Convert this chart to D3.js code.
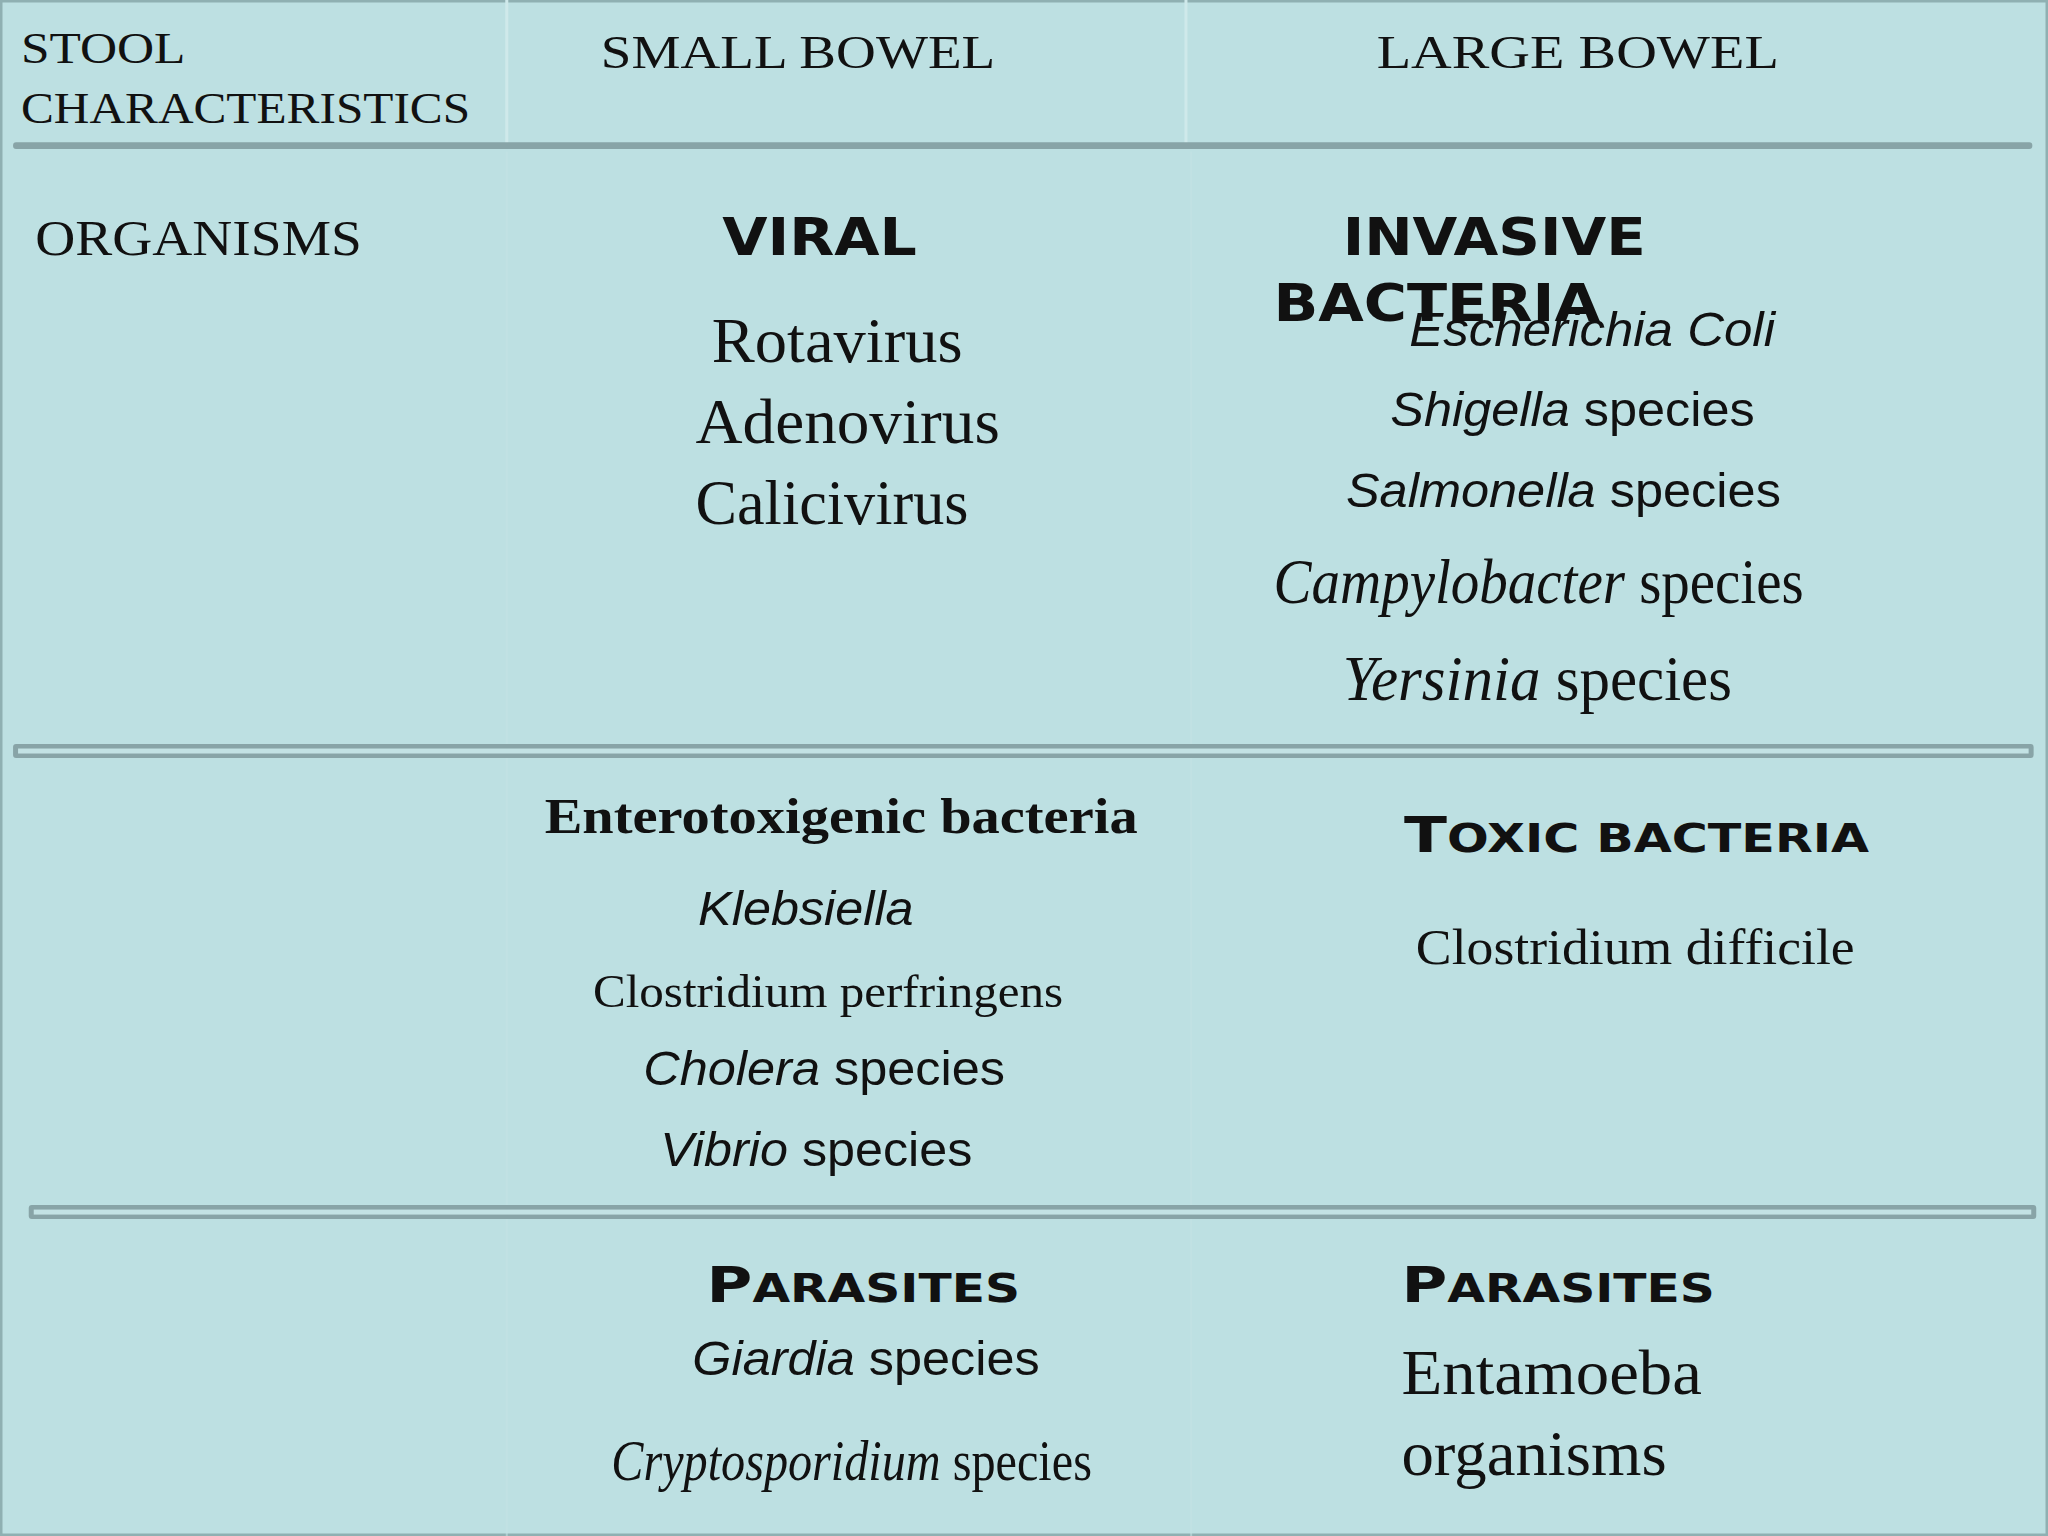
<!DOCTYPE html>
<html><head><meta charset="utf-8">
<script src="https://cdn.jsdelivr.net/npm/d3@7/dist/d3.min.js"></script>
<style>body{margin:0;background:#bde0e2;}svg{display:block}</style>
</head><body>
<script>
// ---- content ----
const columnHeaders = ["SMALL BOWEL", "LARGE BOWEL"];
const rowHeader = ["STOOL", "CHARACTERISTICS"];
const rowLabel = "ORGANISMS";
const groupTitles = ["VIRAL", "INVASIVE", "BACTERIA", "Enterotoxigenic bacteria"];
const viral = ["Rotavirus", "Adenovirus", "Calicivirus"];
const invasive = [["Escherichia Coli", ""], ["Shigella", " species"], ["Salmonella", " species"]];
const invasiveSerif = [["Campylobacter", " species"], ["Yersinia", " species"]];
const enteroItalic = [["Klebsiella", ""], ["Cholera", " species"], ["Vibrio", " species"]];
const enteroSerif = "Clostridium perfringens";
const toxic = ["T", "OXIC BACTERIA"];
const toxicItem = "Clostridium difficile";
const parasites = ["P", "ARASITES"];
const giardia = ["Giardia", " species"];
const crypto = ["Cryptosporidium", " species"];
const entamoeba = ["Entamoeba", "organisms"];

// ---- layout (design units of a 1568x1176 frame) ----
const W = 2048, H = 1536;
const x = d3.scaleLinear().domain([0, 1568]).range([0, W]);
const y = d3.scaleLinear().domain([0, 1176]).range([0, H]);
const k = W / 1568;

const svg = d3.select("body").append("svg").attr("width", W).attr("height", H);
svg.append("rect").attr("width", W).attr("height", H).attr("fill", "#bde0e2");
svg.append("rect").attr("x", 1).attr("y", 1).attr("width", W - 2).attr("height", H - 2)
  .attr("fill", "none").attr("stroke", "#8fb0b2").attr("stroke-width", 3);
[388, 908].forEach(c => svg.append("line").attr("x1", x(c)).attr("x2", x(c)).attr("y1", 0).attr("y2", y(112))
  .attr("stroke", "#cfe9ea").attr("stroke-width", 3));
[388, 912].forEach(c => svg.append("line").attr("x1", x(c)).attr("x2", x(c)).attr("y1", y(116)).attr("y2", H)
  .attr("stroke", "#c4e3e5").attr("stroke-width", 2).attr("opacity", 0.6));
svg.append("rect").attr("x", x(10)).attr("y", y(109)).attr("width", x(1556) - x(10)).attr("height", y(5))
  .attr("rx", 3).attr("fill", "#88a4a7");
function dbl(x0, x1, yc) {
  svg.append("rect").attr("x", x(x0)).attr("y", y(yc) - 7).attr("width", x(x1) - x(x0)).attr("height", 14)
    .attr("rx", 3).attr("fill", "#88a4a7");
  svg.append("rect").attr("x", x(x0) + 5).attr("y", y(yc) - 2.5).attr("width", x(x1) - x(x0) - 10).attr("height", 5)
    .attr("fill", "#c3e2e4");
}
dbl(10, 1557, 575);
dbl(22, 1559, 928);

const SERIF = "'Liberation Serif','DejaVu Serif',serif";
const SANS = "'Liberation Sans',Arial,sans-serif";
const WIDE = "'DejaVu Sans',sans-serif";

function txt(s, px, py, size, opt = {}) {
  const t = svg.append("text").attr("x", x(px)).attr("y", y(py)).attr("font-size", size * k)
    .attr("font-family", opt.family || SERIF).attr("fill", "#111")
    .attr("text-anchor", opt.anchor || "start");
  if (opt.weight) t.attr("font-weight", opt.weight);
  if (opt.style) t.attr("font-style", opt.style);
  if (opt.len) t.attr("textLength", opt.len * k).attr("lengthAdjust", "spacingAndGlyphs");
  if (s !== null) t.text(s);
  return t;
}
function mixed(parts, px, py, size, family, anchor, len) {
  const t = txt(null, px, py, size, { family, anchor, len });
  t.append("tspan").attr("font-style", "italic").text(parts[0]);
  if (parts[1]) t.append("tspan").text(parts[1]);
  return t;
}
function smallcaps(parts, px, py, size, anchor, len) {
  const t = txt(null, px, py, size, { family: WIDE, weight: "bold", anchor, len });
  t.append("tspan").text(parts[0]);
  t.append("tspan").attr("font-size", size * 0.78 * k).text(parts[1]);
  return t;
}

txt(rowHeader[0], 16, 48, 34, { len: 126 });
txt(rowHeader[1], 16, 94, 34, { len: 344 });
txt(columnHeaders[0], 611, 52, 36, { anchor: "middle", len: 302 });
txt(columnHeaders[1], 1208, 52, 36, { anchor: "middle", len: 308 });
txt(rowLabel, 27, 195, 38, { len: 250 });

txt(groupTitles[0], 553, 195, 40, { family: WIDE, weight: "bold", len: 149 });
const vy = [277, 339, 401], vlen = [192, 233, 209];
viral.forEach((v, i) => txt(v, [641, 649, 637][i], vy[i], 48, { anchor: "middle", len: vlen[i] }));

txt(groupTitles[1], 1028, 195, 40, { family: WIDE, weight: "bold", len: 232 });
txt(groupTitles[2], 975, 246, 40, { family: WIDE, weight: "bold", len: 250 });
const iy = [265, 326, 388], ix = [1219, 1204, 1197], ilen = [280, 279, 333];
invasive.forEach((p, i) => mixed(p, ix[i], iy[i], 37, SANS, "middle", ilen[i]));
mixed(invasiveSerif[0], 1178, 462, 48, SERIF, "middle", 406);
mixed(invasiveSerif[1], 1177, 536, 48, SERIF, "middle", 298);

txt(groupTitles[3], 644, 638, 38, { weight: "bold", anchor: "middle", len: 454 });
const ey = [708, 831, 893], ex = [617, 631, 625], elen = [165, 277, 239];
enteroItalic.forEach((p, i) => mixed(p, ex[i], ey[i], 37, SANS, "middle", elen[i]));
txt(enteroSerif, 634, 771, 36, { anchor: "middle", len: 360 });

smallcaps(toxic, 1253, 652, 38, "middle", 356);
txt(toxicItem, 1252, 738, 39, { anchor: "middle", len: 336 });

smallcaps(parasites, 661, 997, 38, "middle", 240);
smallcaps(parasites, 1073, 997, 38, "start", 240);
mixed(giardia, 663, 1053, 37, SANS, "middle", 266);
mixed(crypto, 652, 1133, 43, SERIF, "middle", 368);
txt(entamoeba[0], 1073, 1067, 48, { len: 230 });
txt(entamoeba[1], 1073, 1129, 48, { len: 203 });
</script>
</body></html>
